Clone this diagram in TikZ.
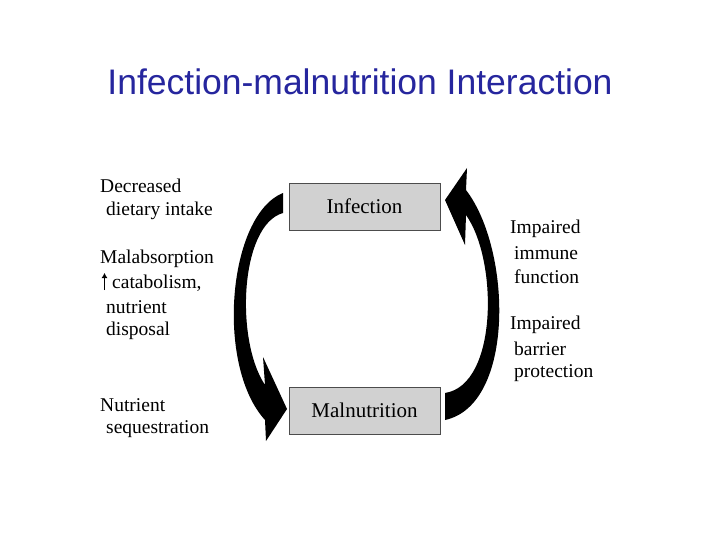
\documentclass[tikz,border=0pt]{standalone}
\usepackage{fontspec}
\usetikzlibrary{arrows.meta}
\setmainfont{Liberation Serif}
\newfontfamily\titlefont{Liberation Sans}
\begin{document}
\begin{tikzpicture}[x=1pt,y=-1pt,
  box/.style={draw=black!70,fill=black!18,minimum width=151pt,minimum height=47pt,font=\fontsize{21}{23}\selectfont},
  lbl/.style={anchor=west,font=\fontsize{19.5}{21}\selectfont,inner sep=0pt}]
\useasboundingbox (0,0) rectangle (720,540);
\node[font=\titlefont\fontsize{35.5}{38}\selectfont,text=blue!55!black!85] (title) at (360,82) {Infection-malnutrition Interaction};
\node[box] (inf) at (364.5,206.5) {Infection};
\node[box] (mal) at (364.5,410.5) {Malnutrition};
% left arrow
\fill (283,193) .. controls (228,215) and (215,365) .. (265,420) -- (266,441) -- (287,409) -- (263,357) -- (265,385) .. controls (235,340) and (240,225) .. (283,213) -- cycle;
% right arrow
\fill (445,420) .. controls (515,405) and (512,250) .. (466,190) -- (467,168) -- (445,200) -- (465,245) -- (466,215) .. controls (498,260) and (498,385) .. (445,393) -- cycle;
\node[lbl] (t1) at (100,186) {Decreased};
\node[lbl] (t2) at (106,211) {dietary intake};
\node[lbl] (t3) at (100,259) {Malabsorption};
\node[lbl] (t4) at (112,283) {catabolism,};
\draw[line width=1.5pt,-{Latex[length=5pt,width=6pt]}] (104.5,290) -- (104.5,273);
\node[lbl] (t5) at (106,307) {nutrient};
\node[lbl] (t6) at (106,331) {disposal};
\node[lbl] (t7) at (100,405) {Nutrient};
\node[lbl] (t8) at (106,429) {sequestration};
\node[lbl] (r1) at (510,229) {Impaired};
\node[lbl] (r2) at (514,253) {immune};
\node[lbl] (r3) at (514,277) {function};
\node[lbl] (r4) at (510,325) {Impaired};
\node[lbl] (r5) at (514,349) {barrier};
\node[lbl] (r6) at (514,373) {protection};
\end{tikzpicture}
\end{document}
